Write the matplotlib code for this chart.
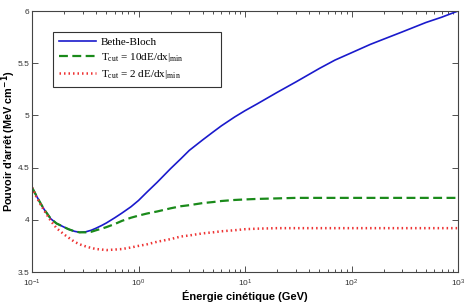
import matplotlib
matplotlib.use("Agg")
import matplotlib.pyplot as plt
from matplotlib.ticker import LogLocator, NullFormatter

energy = [0.1, 0.11, 0.12, 0.13, 0.15, 0.17, 0.2, 0.22, 0.25, 0.28, 0.32, 0.36, 0.4, 0.45,
          0.5, 0.6, 0.7, 0.85, 1.0, 1.2, 1.5, 2, 2.5, 3, 4, 5, 6, 8, 10, 13, 20, 30, 50,
          70, 100, 150, 200, 300, 500, 700, 1000]
bethe = [4.31, 4.23, 4.16, 4.10, 4.01, 3.965, 3.93, 3.91, 3.89, 3.88, 3.885, 3.90, 3.92,
         3.945, 3.97, 4.02, 4.065, 4.125, 4.185, 4.265, 4.36, 4.49, 4.585, 4.665, 4.765,
         4.84, 4.90, 4.985, 5.045, 5.11, 5.22, 5.32, 5.45, 5.53, 5.60, 5.68, 5.73, 5.80,
         5.89, 5.94, 6.0]
tcut10 = [4.31, 4.23, 4.16, 4.10, 4.01, 3.965, 3.93, 3.91, 3.89, 3.88, 3.88, 3.885, 3.90,
          3.915, 3.93, 3.96, 3.99, 4.02, 4.04, 4.06, 4.08, 4.11, 4.13, 4.14, 4.16, 4.17,
          4.18, 4.19, 4.195, 4.20, 4.205, 4.21, 4.21, 4.21, 4.21, 4.21, 4.21, 4.21, 4.21,
          4.21, 4.21]
tcut2 = [4.31, 4.22, 4.15, 4.09, 3.99, 3.92, 3.86, 3.83, 3.79, 3.765, 3.745, 3.73, 3.72,
         3.715, 3.71, 3.715, 3.72, 3.735, 3.75, 3.765, 3.79, 3.815, 3.84, 3.85, 3.87,
         3.88, 3.89, 3.90, 3.91, 3.915, 3.92, 3.92, 3.92, 3.92, 3.92, 3.92, 3.92, 3.92,
         3.92, 3.92, 3.92]
labels = ['Bethe-Bloch',
          r'T$_\mathregular{cut}$ = 10dE/dx|$_\mathregular{min}$',
          r'T$_\mathregular{cut}$ = 2 dE/dx|$_\mathregular{min}$']
yticks = [3.5, 4, 4.5, 5, 5.5, 6]
ytick_labels = ['3.5', '4', '4.5', '5', '5.5', '6']

plt.rcParams['font.family'] = ['Liberation Sans', 'DejaVu Sans']

fig = plt.figure(figsize=(4.65, 3.06), dpi=100)
ax = fig.add_axes([32/465, 34/306, 426/465, 261/306])

l1, = ax.plot(energy, bethe, color='#1a1acc', lw=1.2, ls='-')
l2, = ax.plot(energy, tcut10, color='#1a8a1a', lw=1.6, ls=(0, (4, 2)))
l3, = ax.plot(energy, tcut2, color='#ee3333', lw=1.8, ls=(0, (0.6, 1.2)))

ax.set_xscale('log')
ax.set_xlim(0.1, 1000)
ax.set_ylim(3.5, 6)
ax.set_yticks(yticks)
ax.set_yticklabels(ytick_labels)
ax.xaxis.set_minor_locator(LogLocator(base=10, subs=range(2, 10)))
ax.xaxis.set_minor_formatter(NullFormatter())

ax.tick_params(which='both', direction='in', top=True, right=True,
               labelsize=6, colors='#333333', width=0.6)
ax.tick_params(axis='y', pad=2)
ax.tick_params(axis='x', pad=4)
ax.tick_params(which='major', length=4)
ax.tick_params(which='minor', length=2.5)
for s in ax.spines.values():
    s.set_color('#444444')
    s.set_linewidth(0.8)

ax.set_xlabel('Énergie cinétique (GeV)', fontsize=8, fontweight='bold', labelpad=1)
ax.set_ylabel("Pouvoir d'arrêt (MeV cm$^{\\mathbf{-1}}$)", fontsize=7.8, fontweight='bold')
ax.yaxis.set_label_coords(-14/426, 0.5)

leg = ax.legend([l1, l2, l3], labels, loc='upper left', mode='expand',
                bbox_to_anchor=(21/426, (272 - 84)/261, 168/426, 52/261),
                borderaxespad=0, fancybox=False, framealpha=1,
                edgecolor='#333333', handlelength=3.4, handletextpad=0.4,
                borderpad=0.5, labelspacing=0.35,
                prop={'family': 'Liberation Serif', 'size': 8})
leg.get_frame().set_linewidth(0.8)

fig.savefig('out.png', dpi=100)
